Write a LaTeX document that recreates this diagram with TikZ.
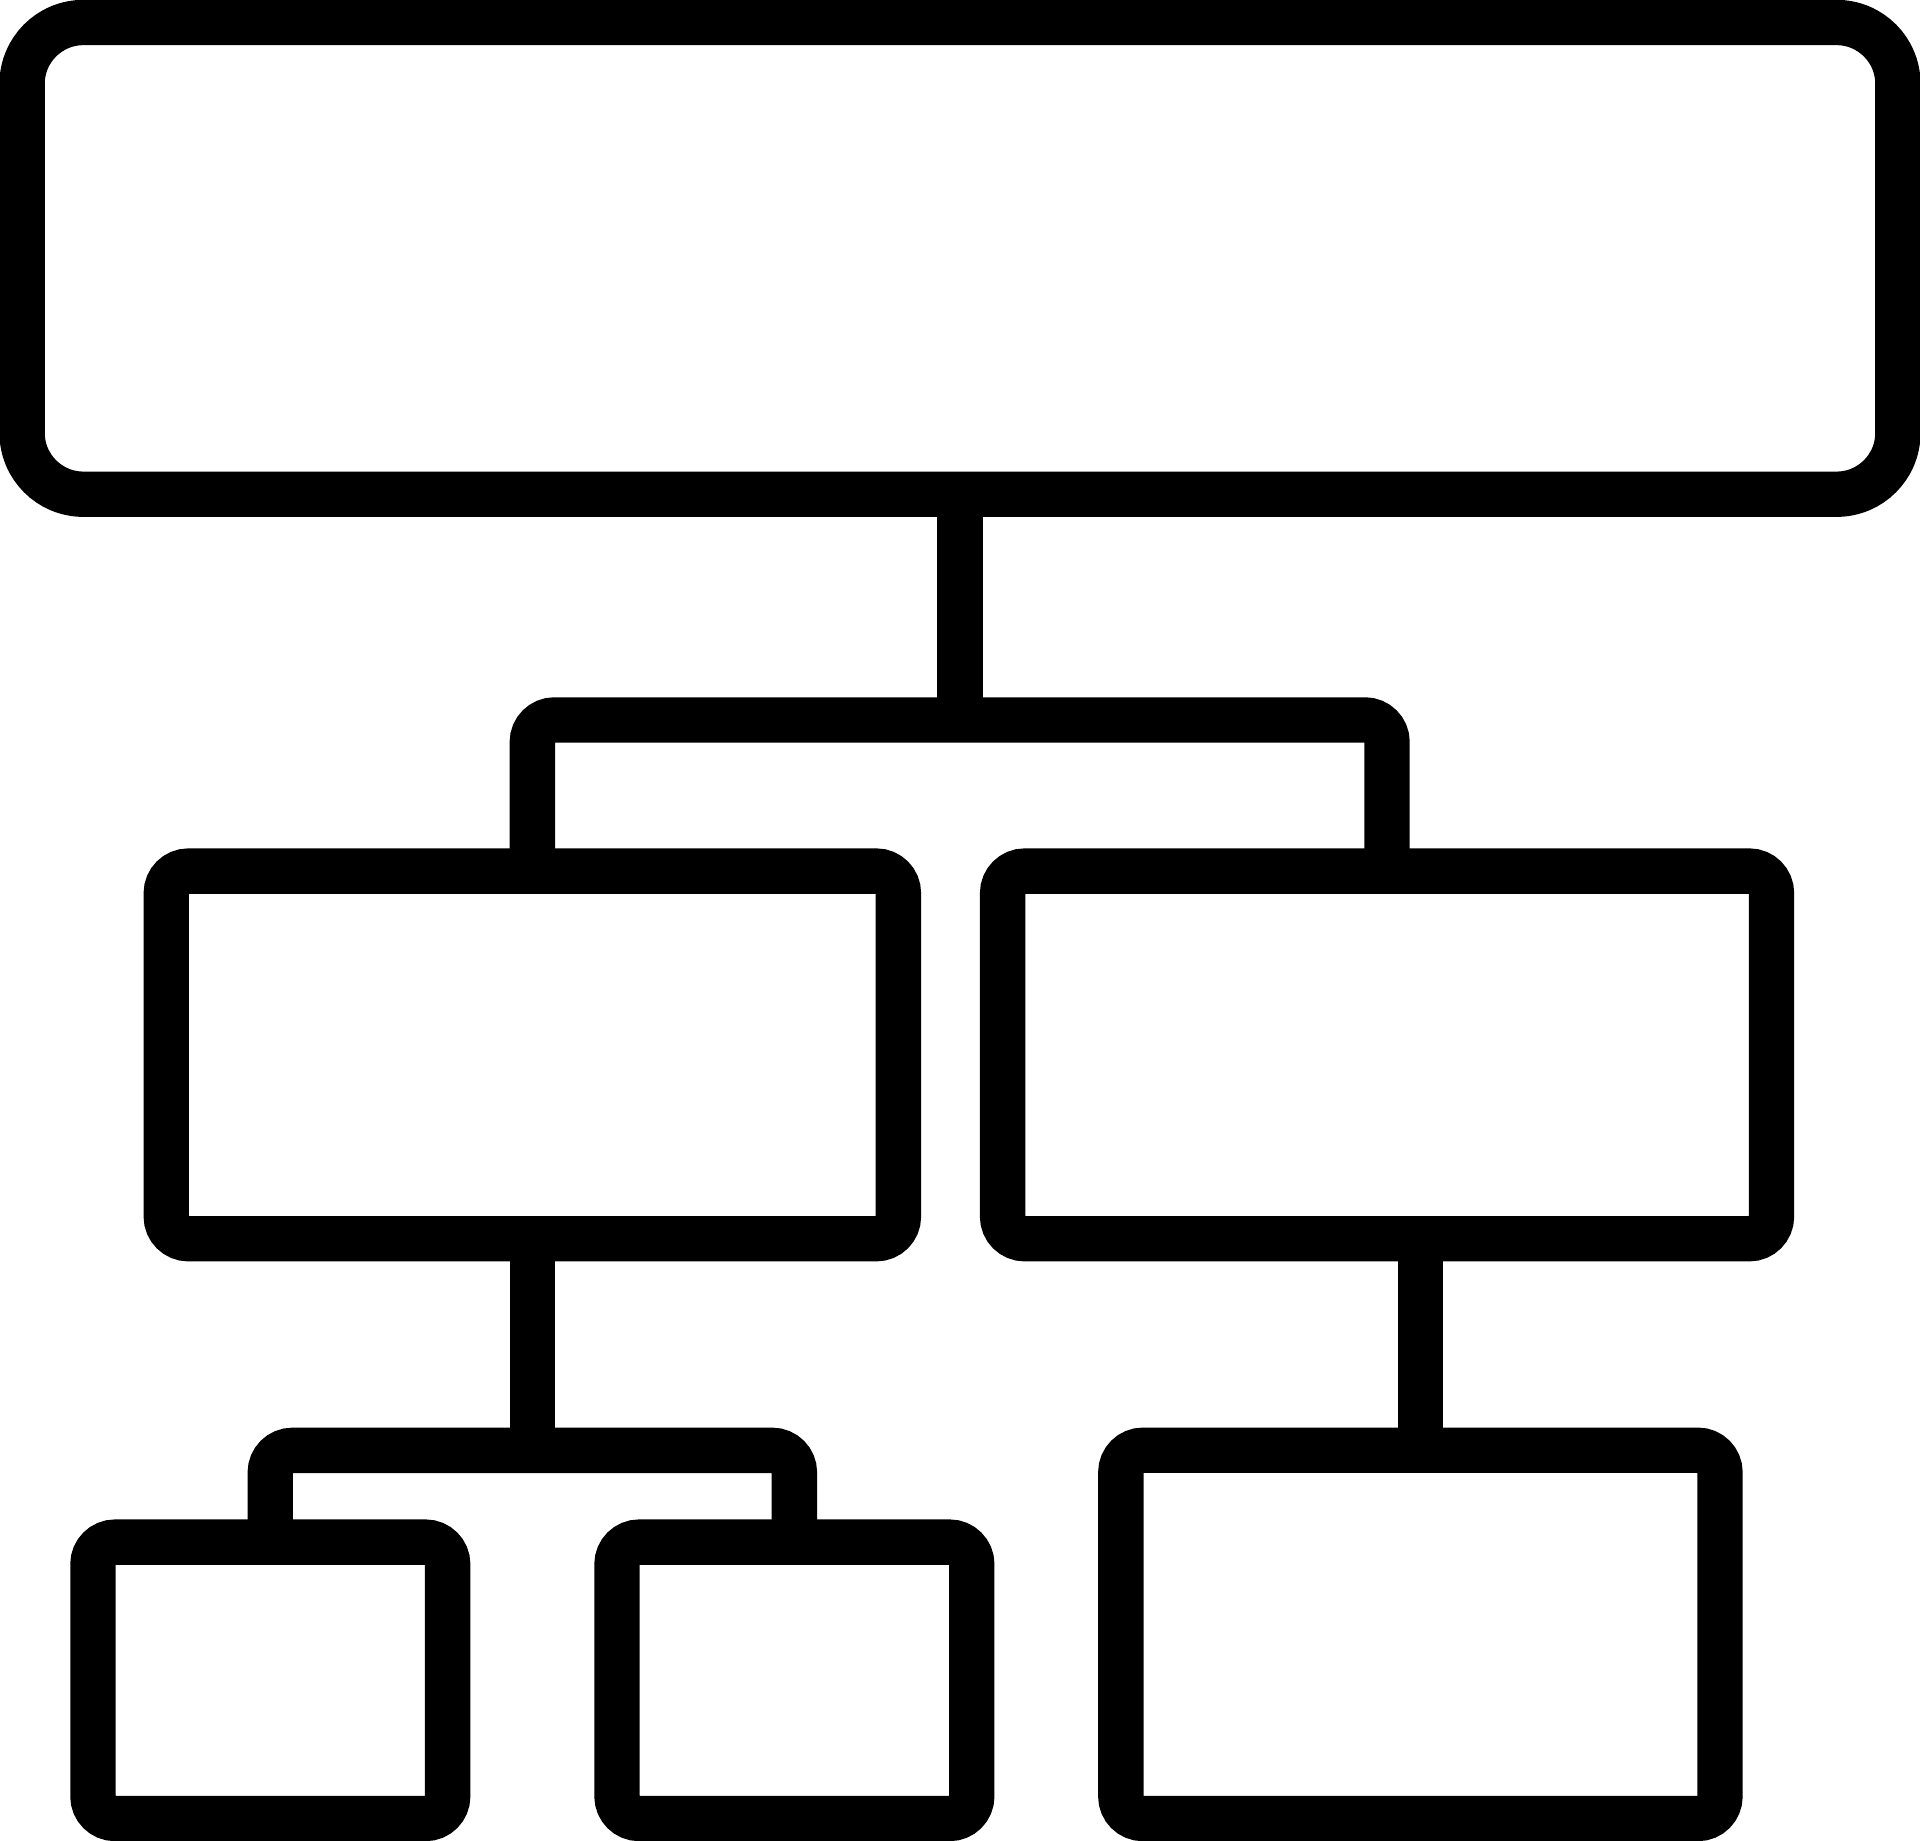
\documentclass[tikz,border=0pt]{standalone}
\begin{document}
\begin{tikzpicture}[x=0.01cm, y=-0.01cm, line width=0.37cm,
    box/.style={draw, rectangle, inner sep=0pt, outer sep=0pt, rounded corners=0.18cm},
    link/.style={draw, rounded corners=0.18cm}]
  \useasboundingbox (0,0) rectangle (1568,1503);
  % boxes
  \node[box, rounded corners=0.5cm, minimum width=15.31cm, minimum height=3.85cm] (top) at (784,211) {};
  \node[box, minimum width=5.975cm, minimum height=3cm] (midL) at (434.75,861.5) {};
  \node[box, minimum width=6.275cm, minimum height=3cm] (midR) at (1132.75,861.5) {};
  \node[box, minimum width=2.895cm, minimum height=2.255cm] (botL) at (220.75,1372.25) {};
  \node[box, minimum width=2.895cm, minimum height=2.255cm] (botM) at (648.75,1372.25) {};
  \node[box, minimum width=4.89cm, minimum height=3.005cm] (botR) at (1160,1334.75) {};
  % connectors
  \coordinate (brk) at (784,588);
  \coordinate (brkL) at (434.75,1184.5);
  \draw (top.south) -- (brk);
  \draw[link] (midL.north) |- (brk) -| (midR.north);
  \draw (midL.south) -- (brkL);
  \draw[link] (botL.north) |- (brkL) -| (botM.north);
  \draw (midR.south -| botR.north) -- (botR.north);
\end{tikzpicture}
\end{document}
